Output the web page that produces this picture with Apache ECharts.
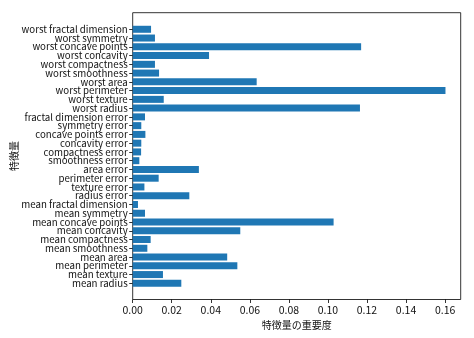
<!DOCTYPE html>
<html>
<head>
<meta charset="utf-8">
<script src="https://cdn.jsdelivr.net/npm/echarts@6/dist/echarts.min.js"></script>
<style>
html,body{margin:0;padding:0;background:#fff;}
#chart{width:474px;height:338px;}
</style>
</head>
<body>
<div id="chart"></div>
<script>
// Categories listed bottom to top
const features = [
  'mean radius','mean texture','mean perimeter','mean area','mean smoothness',
  'mean compactness','mean concavity','mean concave points','mean symmetry','mean fractal dimension',
  'radius error','texture error','perimeter error','area error','smoothness error',
  'compactness error','concavity error','concave points error','symmetry error','fractal dimension error',
  'worst radius','worst texture','worst perimeter','worst area','worst smoothness',
  'worst compactness','worst concavity','worst concave points','worst symmetry','worst fractal dimension'
];
const importances = [
  0.0249, 0.0155, 0.0536, 0.0484, 0.0075,
  0.0092, 0.0551, 0.1029, 0.0063, 0.0027,
  0.0290, 0.0060, 0.0133, 0.0339, 0.0034,
  0.0043, 0.0044, 0.0065, 0.0044, 0.0063,
  0.1164, 0.0159, 0.1602, 0.0635, 0.0135,
  0.0114, 0.0391, 0.1170, 0.0114, 0.0094
];
const xTicks = [0, 0.02, 0.04, 0.06, 0.08, 0.10, 0.12, 0.14, 0.16];
const xLabel = '特徴量の重要度';
const yLabel = '特徴量';

const FONT = '"Noto Sans CJK JP", "Noto Sans", sans-serif';
const L = 132.7, R = 474 - 460.7;
const chart = echarts.init(document.getElementById('chart'), null, {renderer: 'canvas'});
chart.setOption({
  animation: false,
  backgroundColor: '#fff',
  textStyle: {fontFamily: FONT},
  grid: [
    {left: L, right: R, top: 24.9, bottom: 338 - 287.7, containLabel: false},
    {left: L, right: R, top: 12.7, bottom: 338 - 299.5, show: true, borderColor: '#000', borderWidth: 0.8, backgroundColor: 'transparent'}
  ],
  xAxis: [
    {gridIndex: 0, type: 'value', min: 0, max: 0.168, show: false},
    {gridIndex: 1, type: 'value', min: 0, max: 0.168, interval: 0.02,
     splitLine: {show: false},
     axisLine: {show: false},
     axisTick: {show: true, length: 3.5, lineStyle: {color: '#000', width: 0.8}, customValues: xTicks},
     axisLabel: {color: '#111', fontSize: 10.5, margin: 5, fontFamily: FONT, customValues: xTicks,
       formatter: v => v.toFixed(2)},
     name: xLabel, nameLocation: 'middle', nameGap: 17,
     nameTextStyle: {color: '#111', fontSize: 10, fontFamily: FONT}
    }
  ],
  yAxis: [
    {gridIndex: 0, type: 'category', data: features,
     axisLine: {show: false},
     axisTick: {show: true, alignWithLabel: true, length: 3.5, lineStyle: {color: '#000', width: 0.8}},
     axisLabel: {color: '#111', fontSize: 9.7, margin: 5, fontFamily: FONT, interval: 0, lineHeight: 9}
    },
    {gridIndex: 1, type: 'value', min: 0, max: 1, show: true,
     axisLine: {show: false}, axisTick: {show: false}, axisLabel: {show: false}, splitLine: {show: false},
     name: yLabel, nameLocation: 'middle', nameGap: 113, nameRotate: 90,
     nameTextStyle: {color: '#111', fontSize: 10, fontFamily: FONT}
    }
  ],
  series: [{
    type: 'bar', xAxisIndex: 0, yAxisIndex: 0,
    data: importances,
    barWidth: '80%',
    itemStyle: {color: '#1f77b4'}
  }]
});
</script>
</body>
</html>
